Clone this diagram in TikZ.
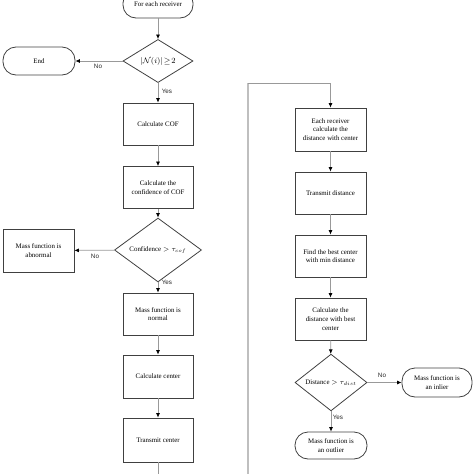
\documentclass[tikz,border=0pt]{standalone}
\usepackage{fontspec}
\setmainfont{Liberation Serif}
\newfontfamily\labfont{Liberation Sans}
\usetikzlibrary{shapes.geometric,arrows.meta}
\tikzset{
  base/.style={draw=black!75, line width=0.8pt, align=center, inner sep=1pt,
    font=\fontsize{6.9}{8.7}\selectfont, text=black},
  procbox/.style={base, minimum width=70pt, minimum height=42pt},
  termbox/.style={base, rounded corners=13pt, minimum width=70pt, minimum height=28pt},
  decbox/.style={base, diamond, inner sep=0pt, minimum width=70pt, minimum height=42pt},
  conn/.style={draw=black!40, line width=0.7pt, -{Latex[length=4.5pt,width=4pt,color=black]}},
  loopline/.style={draw=black!25, line width=1.2pt},
  lab/.style={font=\labfont\fontsize{6.3}{7}\selectfont, text=black!85, inner sep=0pt}
}
\begin{document}
\begin{tikzpicture}[x=1pt,y=-1pt]
\useasboundingbox (0,0) rectangle (474,474);
\clip (0,0) rectangle (474,474);
% left column
\node[termbox] (start) at (158,4) {For each receiver};
\node[decbox, font=\fontsize{8.3}{9}\selectfont] (d1) at (158,61) {$|\mathcal{N}(i)|\!\geq\! 2$};
\node[termbox, minimum width=72pt] (endn) at (39,61) {End};
\node[procbox] (cof) at (158,124) {Calculate COF};
\node[procbox] (conf) at (158,187.5) {Calculate the\\confidence of COF};
\node[decbox, minimum width=87pt, minimum height=44pt] (d2) at (158,250) {Confidence $>\tau_{cof}$};
\node[procbox, minimum width=71pt, minimum height=43pt] (abn) at (38.5,250.5) {Mass function is\\abnormal};
\node[procbox] (norm) at (158,314) {Mass function is\\normal};
\node[procbox, minimum height=43pt] (cc) at (158,376.5) {Calculate center};
\node[procbox, minimum height=44pt] (tc) at (158,440) {Transmit center};
% right column
\node[procbox, minimum width=71pt, minimum height=43pt] (each) at (330.5,129.5) {Each receiver\\calculate the\\distance with center};
\node[procbox, minimum width=71pt] (td) at (330.5,193) {Transmit distance};
\node[procbox, minimum width=71pt] (best) at (330.5,256) {Find the best center\\with min distance};
\node[procbox, minimum width=71pt] (cdb) at (330.5,319) {Calculate the\\distance with best\\center};
\node[decbox, minimum width=72pt, minimum height=41pt] (d3) at (331,382.5) {Distance $>\tau_{dist}$};
\node[termbox, minimum height=29pt] (inl) at (437,382.5) {Mass function is\\an inlier};
\node[termbox, minimum width=72pt, minimum height=27pt] (outl) at (331,445.5) {Mass function is\\an outlier};
% connectors
\draw[conn] (start) -- (d1);
\draw[conn] (d1) -- (endn);
\draw[conn] (d1) -- (cof);
\draw[conn] (cof) -- (conf);
\draw[conn] (conf) -- (d2);
\draw[conn] (d2) -- (abn);
\draw[conn] (d2) -- (norm);
\draw[conn] (norm) -- (cc);
\draw[conn] (cc) -- (tc);
\coordinate (lb) at (158,495);
\coordinate (lt) at (248,83);
\draw[draw=black!40, line width=0.7pt] (tc) -- (lb);
\draw[loopline] (lb) -| (lt);
\draw[conn] (lt) -| (each);
\draw[conn] (each) -- (td);
\draw[conn] (td) -- (best);
\draw[conn] (best) -- (cdb);
\draw[conn] (cdb) -- (d3);
\draw[conn] (d3) -- (inl);
\draw[conn] (d3) -- (outl);
% labels
\node[lab] (l1) at (98,66) {No};
\node[lab] (l2) at (167,91) {Yes};
\node[lab] (l3) at (95,256) {No};
\node[lab] (l4) at (167,282) {Yes};
\node[lab] (l5) at (382,375) {No};
\node[lab] (l6) at (338,417) {Yes};
\end{tikzpicture}
\end{document}
